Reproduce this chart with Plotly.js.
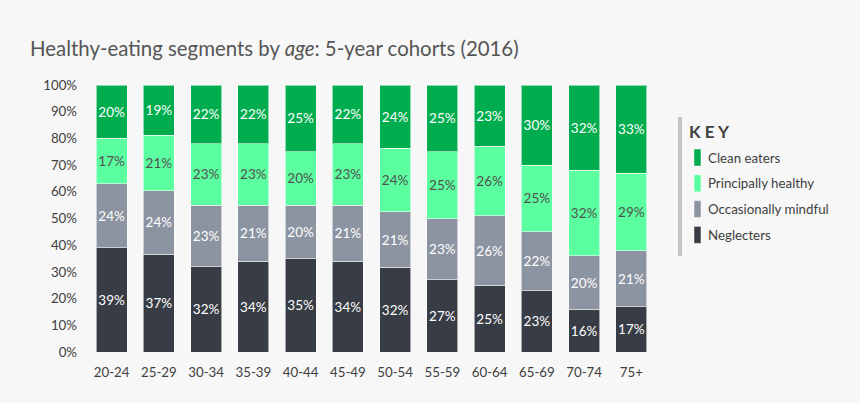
<!DOCTYPE html>
<html>
<head>
<meta charset="utf-8">
<script src="https://cdn.plot.ly/plotly-3.0.1.min.js"></script>
<style>
  html, body { margin: 0; padding: 0; background: #f7f7f7; }
  #chart { width: 860px; height: 403px; }
</style>
</head>
<body>
<div id="chart"></div>
<script>
// age cohorts and segment shares (%)
const cohorts = ['20-24', '25-29', '30-34', '35-39', '40-44', '45-49', '50-54', '55-59', '60-64', '65-69', '70-74', '75+'];
const neglecters = [39, 37, 32, 34, 35, 34, 32, 27, 25, 23, 16, 17];
const occasionallyMindful = [24, 24, 23, 21, 20, 21, 21, 23, 26, 22, 20, 21];
const principallyHealthy = [17, 21, 23, 23, 20, 23, 24, 25, 26, 25, 32, 29];
const cleanEaters = [20, 19, 22, 22, 25, 22, 24, 25, 23, 30, 32, 33];

const segmentNames = ['Neglecters', 'Occasionally mindful', 'Principally healthy', 'Clean eaters'];
const segmentValues = [neglecters, occasionallyMindful, principallyHealthy, cleanEaters];
const segmentColors = ['#383c45', '#8c93a1', '#5cffa0', '#00ad4e'];
const labelColors = ['#ffffff', '#ffffff', '#505050', '#ffffff'];

const FONT = 'Lato, "Noto Sans", sans-serif';

// plot box in pixels, used to place the hand-made key
const W = 860, H = 403;
const M = { l: 88, r: 205, t: 85, b: 51 };
const px2x = px => (px - M.l) / (W - M.l - M.r);
const px2y = py => (H - M.b - py) / (H - M.t - M.b);

const traces = segmentNames.map((name, i) => ({
    type: 'bar',
    name: name,
    x: cohorts,
    y: segmentValues[i],
    text: segmentValues[i].map(v => v + '%'),
    texttemplate: '%{text}',
    textposition: 'inside',
    insidetextanchor: 'middle',
    textangle: 0,
    constraintext: 'none',
    textfont: { family: FONT, size: 13.5, color: labelColors[i] },
    marker: { color: segmentColors[i], line: { color: 'rgba(255,255,255,0.55)', width: 1 } },
    showlegend: false,
    hoverinfo: 'skip'
}));

// key: grey bar, heading, swatches and names (top entry = last segment)
const shapes = [{
    type: 'rect', xref: 'paper', yref: 'paper',
    x0: px2x(678), x1: px2x(682), y0: px2y(256), y1: px2y(117),
    fillcolor: '#c6c6c6', line: { width: 0 }
}];
const annotations = [{
    text: '<b>K E Y</b>', xref: 'paper', yref: 'paper',
    x: px2x(687), y: px2y(131), xanchor: 'left', yanchor: 'middle',
    showarrow: false, font: { family: FONT, size: 17, color: '#404040' }
}];
segmentNames.slice().reverse().forEach((name, k) => {
    const i = segmentNames.length - 1 - k;
    const cy = 157.5 + k * 25.8;
    shapes.push({
        type: 'rect', xref: 'paper', yref: 'paper',
        x0: px2x(694), x1: px2x(701), y0: px2y(cy + 8.5), y1: px2y(cy - 8.5),
        fillcolor: segmentColors[i], line: { color: 'rgba(255,255,255,0.5)', width: 1 }
    });
    annotations.push({
        text: name, xref: 'paper', yref: 'paper',
        x: px2x(706), y: px2y(cy), xanchor: 'left', yanchor: 'middle',
        showarrow: false, font: { family: FONT, size: 13.3, color: '#404040' }
    });
});

const layout = {
    width: W, height: H,
    paper_bgcolor: '#f7f7f7', plot_bgcolor: '#f7f7f7',
    margin: M,
    font: { family: FONT, color: '#404040' },
    title: {
        text: 'Healthy-eating segments by <i>age</i>: 5-year cohorts (2016)',
        x: 30 / W, xref: 'container', xanchor: 'left',
        y: 1 - 48.5 / H, yref: 'container', yanchor: 'middle',
        font: { family: FONT, size: 20.4, color: '#555555' }
    },
    barmode: 'stack',
    barnorm: 'percent',
    bargap: 0.34,
    xaxis: {
        showgrid: false, zeroline: false, showline: false, ticks: '',
        tickfont: { size: 13.3, color: '#404040' },
        ticklabelstandoff: 11
    },
    yaxis: {
        range: [0, 100], dtick: 10, ticksuffix: '%',
        showgrid: false, zeroline: false, showline: false, ticks: '',
        tickfont: { size: 13.3, color: '#404040' },
        ticklabelstandoff: 10
    },
    uniformtext: { mode: false },
    shapes: shapes,
    annotations: annotations
};

Plotly.newPlot('chart', traces, layout, { displayModeBar: false, staticPlot: true });
</script>
</body>
</html>
